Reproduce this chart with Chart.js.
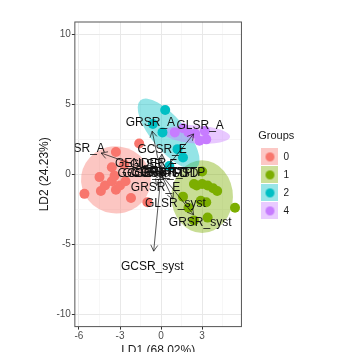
<!DOCTYPE html>
<html>
<head>
<meta charset="utf-8">
<script src="https://cdn.jsdelivr.net/npm/chart.js@4/dist/chart.umd.min.js"></script>
<style>
  html, body { margin: 0; padding: 0; background: #fff; overflow: hidden; }
  #wrap { width: 344px; height: 358px; position: relative; }
</style>
</head>
<body>
<div id="wrap"><canvas id="ldaChart"></canvas></div>
<script>
// groups and colours
var groups = ['0', '1', '2', '4'];
var groupColors = ['#F8766D', '#7CAE00', '#00BFC4', '#C77CFF'];

// sample scores (LD1, LD2) per group
var g0LD1 = [-5.6, -4.5, -4.4, -4.1, -3.6, -3.6, -3.4, -3.3, -3.3, -3.0, -2.7, -2.6, -2.2, -1.6, -1.0];
var g0LD2 = [-1.4, -0.2, -1.2, -0.8, 0.5, -0.5, -0.1, -1.1, 1.6, -0.8, 0.7, -0.5, -1.7, 2.2, -2.0];
var g1LD1 = [1.6, 2.0, 2.4, 2.6, 3.0, 3.0, 3.4, 3.8, 4.1, 2.9, 3.3, 5.4, 2.4, 3.4];
var g1LD2 = [-1.6, -2.4, -0.7, -0.8, -0.7, 0.2, -0.8, -1.0, -1.2, -1.9, -2.0, -2.4, -3.3, -3.1];
var g2LD1 = [0.3, 0.1, -0.6, 1.2, 1.6, 0.6];
var g2LD2 = [4.6, 3.0, 3.6, 1.8, 1.2, 0.6];
var g4LD1 = [1.0, 1.6, 2.0, 2.5, 2.8, 3.3, 3.2];
var g4LD2 = [3.0, 3.3, 3.0, 2.9, 2.4, 2.5, 3.1];

// group ellipses: centre, semi axes (data units), tilt in degrees
var ellLD1 = [-3.3, 3.0, 0.55, 2.6];
var ellLD2 = [-0.4, -1.6, 2.9, 2.85];
var ellAxis1 = [2.55, 2.25, 3.2, 2.45];
var ellAxis2 = [2.4, 2.6, 1.2, 0.65];
var ellTilt = [-8, 0, -50, -4];

// variable loadings (arrow tips)
var varNames = ['SR_A', 'GRSR_A', 'GLSR_A', 'GCSR_E', 'GRSR_E', 'GLSR_syst', 'GRSR_syst', 'GCSR_syst',
                'GENDER', 'GLSR_E', 'GCSR_TTP', 'GCSR_PSD', 'GLSR_TTP', 'GLSR_PSD', 'GRSR_TTP'];
var varLD1 = [-4.38, -0.65, 2.38, 0.06, -0.34, 0.87, 2.38, -0.54,
              -1.25, -0.45, -0.70, -0.34, 0.02, 0.32, 0.74];
var varLD2 = [1.52, 3.09, 2.89, 1.44, -0.80, -1.77, -2.90, -5.50,
              0.62, 0.60, 0.06, 0.04, 0.08, 0.05, 0.07];

// axis ticks
var xMajor = [-6, -3, 0, 3];
var xMinor = [-4.5, -1.5, 1.5, 4.5];
var yMajor = [-10, -5, 0, 5, 10];
var yMinor = [-7.5, -2.5, 2.5, 7.5];

var labelAdjust = 1.2;

function toPoints(xs, ys) {
    return xs.map(function (v, i) { return { x: v, y: ys[i] }; });
}

function fade(hex, a) {
    var n = parseInt(hex.slice(1), 16);
    return 'rgba(' + (n >> 16) + ',' + ((n >> 8) & 255) + ',' + (n & 255) + ',' + a + ')';
}

function keyImage(color) {
    var c = document.createElement('canvas');
    c.width = 17; c.height = 17;
    var g = c.getContext('2d');
    g.fillStyle = fade(color, 0.4);
    g.fillRect(0, 0, 17, 17);
    g.fillStyle = color;
    g.beginPath();
    g.arc(8.5, 8.5, 4.5, 0, Math.PI * 2);
    g.fill();
    return c;
}

function setTicks(major, minor) {
    return function (scale) {
        scale.ticks = major.concat(minor).sort(function (a, b) { return a - b; })
            .map(function (v) { return { value: v }; });
    };
}

function isMajor(list, v) { return list.indexOf(v) !== -1; }

var scores = [[g0LD1, g0LD2], [g1LD1, g1LD2], [g2LD1, g2LD2], [g4LD1, g4LD2]];

var datasets = [];
groups.forEach(function (g, i) {
    datasets.push({
        type: 'scatter',
        label: g,
        data: toPoints(scores[i][0], scores[i][1]),
        backgroundColor: groupColors[i],
        borderWidth: 0,
        pointRadius: 5,
        order: 1
    });
});
varNames.forEach(function (name, i) {
    datasets.push({
        type: 'line',
        label: name,
        data: [{ x: 0, y: 0 }, { x: varLD1[i], y: varLD2[i] }],
        borderColor: '#111',
        borderWidth: 0.7,
        pointRadius: 0,
        order: 0
    });
});

var ellipsePlugin = {
    id: 'ellipses',
    beforeDatasetsDraw: function (chart) {
        var ctx = chart.ctx, xs = chart.scales.x, ys = chart.scales.y, a = chart.chartArea;
        var ux = xs.getPixelForValue(1) - xs.getPixelForValue(0);
        var uy = ys.getPixelForValue(0) - ys.getPixelForValue(1);
        ctx.save();
        ctx.beginPath();
        ctx.rect(a.left, a.top, a.right - a.left, a.bottom - a.top);
        ctx.clip();
        groups.forEach(function (g, i) {
            ctx.beginPath();
            ctx.ellipse(xs.getPixelForValue(ellLD1[i]), ys.getPixelForValue(ellLD2[i]),
                ellAxis1[i] * ux, ellAxis2[i] * uy, -ellTilt[i] * Math.PI / 180, 0, Math.PI * 2);
            ctx.fillStyle = fade(groupColors[i], 0.42);
            ctx.fill();
        });
        ctx.restore();
    }
};

var biplotPlugin = {
    id: 'biplot',
    afterLayout: function (chart) {
        // nudge the legend away from the panel like ggplot's legend spacing
        chart.legend.left += 12;
        chart.legend.right += 12;
    },
    afterDatasetsDraw: function (chart) {
        var ctx = chart.ctx, xs = chart.scales.x, ys = chart.scales.y, a = chart.chartArea;
        var ox = xs.getPixelForValue(0), oy = ys.getPixelForValue(0);
        ctx.save();
        ctx.beginPath();
        ctx.rect(a.left, a.top, a.right - a.left, a.bottom - a.top);
        ctx.clip();
        // arrow heads
        ctx.strokeStyle = '#111';
        ctx.lineWidth = 0.7;
        varNames.forEach(function (n, i) {
            var tx = xs.getPixelForValue(varLD1[i]), ty = ys.getPixelForValue(varLD2[i]);
            var ang = Math.atan2(ty - oy, tx - ox);
            ctx.beginPath();
            ctx.moveTo(tx - 7 * Math.cos(ang - Math.PI / 6), ty - 7 * Math.sin(ang - Math.PI / 6));
            ctx.lineTo(tx, ty);
            ctx.lineTo(tx - 7 * Math.cos(ang + Math.PI / 6), ty - 7 * Math.sin(ang + Math.PI / 6));
            ctx.stroke();
        });
        // variable names
        ctx.fillStyle = '#111';
        ctx.font = "12px 'Liberation Sans', Arial, sans-serif";
        ctx.textAlign = 'center';
        ctx.textBaseline = 'middle';
        varNames.forEach(function (n, i) {
            ctx.fillText(n, xs.getPixelForValue(varLD1[i] * labelAdjust), ys.getPixelForValue(varLD2[i] * labelAdjust));
        });
        ctx.restore();
        // panel border
        ctx.save();
        ctx.strokeStyle = '#555';
        ctx.lineWidth = 1;
        ctx.strokeRect(a.left, a.top, a.right - a.left, a.bottom - a.top);
        ctx.restore();
    }
};

document.addEventListener('DOMContentLoaded', function () {
    Chart.defaults.font.family = "'Liberation Sans', Arial, sans-serif";
    var keys = groupColors.map(keyImage);
    var ctx = document.getElementById('ldaChart').getContext('2d');
    new Chart(ctx, {
        type: 'scatter',
        data: { datasets: datasets },
        options: {
            responsive: true,
            maintainAspectRatio: false,
            animation: false,
            layout: { padding: { left: 37, top: 22, right: 57, bottom: 0 } },
            plugins: {
                tooltip: { enabled: false },
                legend: {
                    position: 'right',
                    fullSize: false,
                    align: 'center',
                    title: {
                        display: true,
                        text: 'Groups',
                        position: 'center',
                        color: '#1a1a1a',
                        font: { size: 11 },
                        padding: { top: 6, bottom: 0 }
                    },
                    labels: {
                        usePointStyle: true,
                        pointStyleWidth: 17,
                        padding: 8,
                        color: '#1a1a1a',
                        font: { size: 10 },
                        generateLabels: function () {
                            return groups.map(function (g, i) {
                                return {
                                    text: g, pointStyle: keys[i], datasetIndex: i,
                                    fillStyle: groupColors[i], strokeStyle: groupColors[i],
                                    lineWidth: 0, hidden: false, fontColor: '#1a1a1a'
                                };
                            });
                        }
                    }
                }
            },
            scales: {
                x: {
                    type: 'linear',
                    min: -6.3,
                    max: 5.87,
                    afterBuildTicks: setTicks(xMajor, xMinor),
                    border: { display: false },
                    grid: {
                        color: function (c) { return isMajor(xMajor, c.tick.value) ? '#e8e8e8' : '#f2f2f2'; },
                        lineWidth: function (c) { return isMajor(xMajor, c.tick.value) ? 1 : 0.6; },
                        tickColor: function (c) { return isMajor(xMajor, c.tick.value) ? '#333' : 'rgba(0,0,0,0)'; },
                        tickLength: 3
                    },
                    ticks: {
                        autoSkip: false,
                        maxRotation: 0,
                        padding: 1,
                        color: '#4d4d4d',
                        font: { size: 10 },
                        callback: function (v) { return isMajor(xMajor, v) ? String(v) : ''; }
                    },
                    title: { display: true, text: 'LD1 (68.02%)', color: '#1a1a1a', font: { size: 12 }, padding: { top: 0, bottom: 0 } }
                },
                y: {
                    type: 'linear',
                    min: -10.9,
                    max: 10.9,
                    afterBuildTicks: setTicks(yMajor, yMinor),
                    border: { display: false },
                    grid: {
                        color: function (c) { return isMajor(yMajor, c.tick.value) ? '#e8e8e8' : '#f2f2f2'; },
                        lineWidth: function (c) { return isMajor(yMajor, c.tick.value) ? 1 : 0.6; },
                        tickColor: function (c) { return isMajor(yMajor, c.tick.value) ? '#333' : 'rgba(0,0,0,0)'; },
                        tickLength: 3
                    },
                    ticks: {
                        autoSkip: false,
                        padding: 1,
                        color: '#4d4d4d',
                        font: { size: 10 },
                        callback: function (v) { return isMajor(yMajor, v) ? String(v) : ''; }
                    },
                    title: { display: true, text: 'LD2 (24.23%)', color: '#1a1a1a', font: { size: 12 }, padding: { top: 0, bottom: 4 } }
                }
            }
        },
        plugins: [ellipsePlugin, biplotPlugin]
    });
});
</script>
</body>
</html>
